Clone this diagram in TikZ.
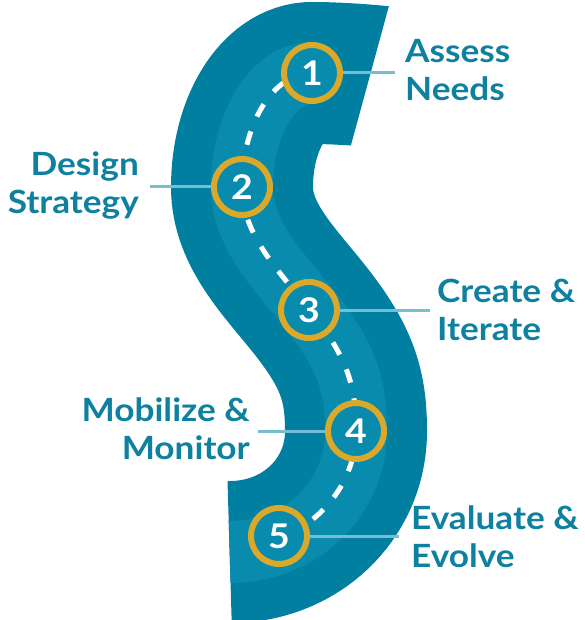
\documentclass[tikz,border=0pt]{standalone}
\usepackage{fontspec}
\setmainfont{Lato}[FakeStretch=1.1]
\usetikzlibrary{calc,positioning}
\definecolor{roaddark}{RGB}{0,127,160}
\definecolor{roadlight}{RGB}{8,139,172}
\definecolor{ringgold}{RGB}{218,168,42}
\definecolor{linkblue}{RGB}{118,190,210}
\definecolor{labelteal}{RGB}{14,128,160}

\begin{document}
\begin{tikzpicture}[x=1pt,y=-1pt,
		stepring/.style={circle,draw=ringgold,line width=6pt,fill=roadlight,minimum size=56pt,inner sep=0pt,text=white,font=\bfseries\fontsize{34}{34}\selectfont},
		link/.style={draw=linkblue,line width=3pt},
		steplabel/.style={text=labelteal,font=\bfseries\fontsize{32}{38}\selectfont,inner sep=0pt}
		]
		\useasboundingbox (0,0) rectangle (585,620);

		% the road, cut at both ends
		\begin{scope}
			\clip (-10,-20) -- (396,-20) -- (345,167) -- (600,167) -- (600,700) -- (234,700) -- (226,430) -- (-10,430) -- cycle;
			\draw[roaddark,line width=142pt] (440,84) .. controls (400,78) and (350,73) .. (312,73)
				.. controls (273.3,73) and (242,124) .. (242,187)
				.. controls (242,235) and (279,271) .. (310,310)
				.. controls (347,357) and (356,385) .. (356,431)
				.. controls (356,500) and (299.6,552) .. (230,552) -- (170,552);
			\draw[roadlight,line width=62pt] (312,73)
				.. controls (273.3,73) and (242,124) .. (242,187)
				.. controls (242,235) and (279,271) .. (310,310)
				.. controls (347,357) and (356,385) .. (356,431)
				.. controls (356,500) and (299.6,552) .. (230,552) -- (170,552);
		\end{scope}
		\draw[white,line width=5pt,dash pattern=on 14pt off 16pt] (312,73)
			.. controls (273.3,73) and (242,124) .. (242,187)
			.. controls (242,235) and (279,271) .. (310,310)
			.. controls (347,357) and (356,385) .. (356,431)
			.. controls (356,477.2) and (326.7,519.1) .. (281,538);

		\foreach \n/\x/\y in {1/312/73,2/242/187,3/309/310,4/356/431,5/279/536}
			\node[stepring] (c\n) at (\x,\y) {\n};

		\node[steplabel,anchor=base west,align=left] (l1) at (405,101) {Assess\\Needs};
		\node[steplabel,anchor=base east,align=right] (l2) at (139,214) {Design\\Strategy};
		\node[steplabel,anchor=base west,align=left] (l3) at (437,340) {Create \&\\Iterate};
		\node[steplabel,anchor=base east,align=right] (l4) at (250,459) {Mobilize \&\\Monitor};
		\node[steplabel,anchor=base west,align=left] (l5) at (411,567) {Evaluate \&\\Evolve};

		\coordinate (e1) at (395,73);
		\coordinate (e2) at (150,187);
		\coordinate (e3) at (430,310);
		\coordinate (e4) at (258,431);
		\coordinate (e5) at (399,536);
		\foreach \n/\a in {1/east,2/west,3/east,4/west,5/east}
			\draw[link] (c\n.\a) -- (e\n);
\end{tikzpicture}
\end{document}
